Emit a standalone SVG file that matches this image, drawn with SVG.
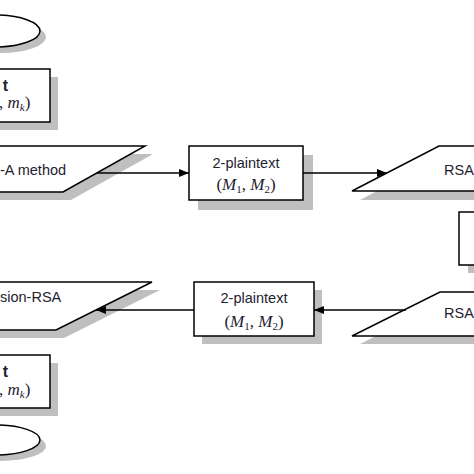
<svg xmlns="http://www.w3.org/2000/svg" width="474" height="474" viewBox="0 0 474 474">
<defs>
<style>
.sh{fill:#bfbfbf;stroke:none}
.nd{fill:#fff;stroke:#000;stroke-width:1.5}
.t{font-family:"Liberation Sans",Arial,sans-serif;font-size:14.5px;fill:#1e2230}
.b{font-weight:bold;font-size:16px}
.m{font-family:"Liberation Serif","Times New Roman",serif;font-size:17px;fill:#1e2230}
.i{font-style:italic}
.c{stroke:#000;stroke-width:1.6;fill:none}
</style>
<marker id="ah" viewBox="0 0 10 8" refX="10" refY="4" markerWidth="10" markerHeight="8" markerUnits="userSpaceOnUse" orient="auto">
<path d="M0,0 L10,4 L0,8 Z" fill="#000"/>
</marker>
</defs>
<rect width="474" height="474" fill="#fff"/>

<g id="start">
<ellipse class="sh" cx="1" cy="37" rx="45" ry="16"/>
<ellipse class="nd" cx="-5" cy="31" rx="45" ry="16"/>
</g>

<g id="plaintext-top">
<rect class="sh" x="-20" y="77" width="78" height="53"/>
<rect class="nd" x="-28" y="69" width="78" height="53"/>
<text class="t b" x="8" y="91" text-anchor="end">t</text>
<text class="m" x="-1" y="108">, <tspan class="i">m</tspan><tspan class="i" font-size="11" dy="3">k</tspan><tspan dy="-3">)</tspan></text>
</g>

<g id="method-left">
<polygon class="sh" points="-100,154 153,154 71,200 -100,200"/>
<polygon class="nd" points="-100,146 145,146 63,192 -100,192"/>
<text class="t" x="0" y="175">-A method</text>
</g>

<g id="plain2-top">
<rect class="sh" x="198" y="155" width="115" height="55"/>
<rect class="nd" x="189" y="146" width="114" height="54"/>
<text class="t" x="246" y="168" text-anchor="middle">2-plaintext</text>
<text class="m" x="246" y="190" text-anchor="middle">(<tspan class="i">M</tspan><tspan font-size="11" dy="3">1</tspan><tspan dy="-3">, </tspan><tspan class="i">M</tspan><tspan font-size="11" dy="3">2</tspan><tspan dy="-3">)</tspan></text>
</g>

<g id="rsa-top">
<polygon class="sh" points="447,154 600,154 600,200 360,200"/>
<polygon class="nd" points="439,146 600,146 600,191 352,191"/>
<text class="t" x="444" y="175">RSA</text>
</g>

<g id="right-box">
<rect class="sh" x="468" y="220" width="40" height="53"/>
<rect class="nd" x="459" y="212" width="40" height="53"/>
</g>

<g id="rsa-bottom">
<polygon class="sh" points="448,300 600,300 600,344 360,344"/>
<polygon class="nd" points="440,292 600,292 600,336 352,336"/>
<text class="t" x="444" y="318">RSA</text>
</g>

<g id="plain2-bottom">
<rect class="sh" x="202" y="290" width="120" height="54"/>
<rect class="nd" x="194" y="282" width="120" height="54"/>
<text class="t" x="254" y="303" text-anchor="middle">2-plaintext</text>
<text class="m" x="254" y="327" text-anchor="middle">(<tspan class="i">M</tspan><tspan font-size="11" dy="3">1</tspan><tspan dy="-3">, </tspan><tspan class="i">M</tspan><tspan font-size="11" dy="3">2</tspan><tspan dy="-3">)</tspan></text>
</g>

<g id="version-rsa">
<polygon class="sh" points="-100,290 160,290 64,338 -100,338"/>
<polygon class="nd" points="-100,282 152,282 56,330 -100,330"/>
<text class="t" x="0" y="302">sion-RSA</text>
</g>

<g id="plaintext-bottom">
<rect class="sh" x="-20" y="363" width="78" height="53"/>
<rect class="nd" x="-28" y="355" width="78" height="53"/>
<text class="t b" x="8" y="377" text-anchor="end">t</text>
<text class="m" x="-1" y="395">, <tspan class="i">m</tspan><tspan class="i" font-size="11" dy="3">k</tspan><tspan dy="-3">)</tspan></text>
</g>

<g id="end">
<ellipse class="sh" cx="1" cy="446" rx="45" ry="15"/>
<ellipse class="nd" cx="-5" cy="440" rx="45" ry="15"/>
</g>

<g id="connectors">
<line class="c" x1="97" y1="173" x2="189" y2="173" marker-end="url(#ah)"/>
<line class="c" x1="303" y1="173" x2="387" y2="173" marker-end="url(#ah)"/>
<line class="c" x1="406" y1="310" x2="314" y2="310" marker-end="url(#ah)"/>
<line class="c" x1="194" y1="310" x2="96" y2="310" marker-end="url(#ah)"/>
</g>
</svg>
